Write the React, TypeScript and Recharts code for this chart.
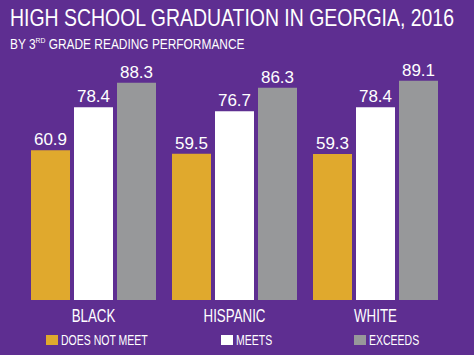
import { Bar, BarChart, LabelList, XAxis, YAxis } from "recharts";

const groups = ["BLACK", "HISPANIC", "WHITE"];
const doesNotMeet = [60.9, 59.5, 59.3];
const meets = [78.4, 76.7, 78.4];
const exceeds = [88.3, 86.3, 89.1];

const data = groups.map((g, i) => ({
  group: g,
  doesNotMeet: doesNotMeet[i],
  meets: meets[i],
  exceeds: exceeds[i],
}));

const PURPLE = "#5e2e91";
const GOLD = "#e0a92d";
const GRAY = "#97989a";
const FONT = "'Liberation Sans', sans-serif";

const legendItems = [
  { label: "DOES NOT MEET", color: GOLD, left: 46 },
  { label: "MEETS", color: "#ffffff", left: 221 },
  { label: "EXCEEDS", color: GRAY, left: 354 },
];

// narrow tick text, the source uses a condensed hand-drawn face
function GroupTick({ x, y, payload }: any) {
  return (
    <text
      x={0}
      y={0}
      transform={`translate(${x},${y + 14}) scale(0.74,1)`}
      textAnchor="middle"
      fill="#fff"
      fontSize={18}
      fontFamily={FONT}
    >
      {payload.value}
    </text>
  );
}

const squeeze = (s: number): React.CSSProperties => ({
  transform: `scaleX(${s})`,
  transformOrigin: "left center",
  whiteSpace: "nowrap",
});

export default function App() {
  return (
    <div
      style={{
        position: "fixed",
        top: 0,
        left: 0,
        width: 474,
        height: 355,
        background: PURPLE,
        fontFamily: FONT,
        color: "#fff",
        overflow: "hidden",
      }}
    >
      <div style={{ position: "absolute", left: 10, top: 4, fontSize: 24, ...squeeze(0.81) }}>
        HIGH SCHOOL GRADUATION IN GEORGIA, 2016
      </div>
      <div style={{ position: "absolute", left: 10, top: 36, fontSize: 14, ...squeeze(0.85) }}>
        BY 3<sup style={{ fontSize: 8 }}>RD</sup> GRADE READING PERFORMANCE
      </div>
      <BarChart
        width={474}
        height={330}
        data={data}
        margin={{ top: 54, right: 28, left: 23, bottom: 5 }}
        barCategoryGap={8}
        barGap={4}
      >
        <YAxis hide domain={[0, 100]} />
        <XAxis dataKey="group" axisLine={false} tickLine={false} height={25} tick={<GroupTick />} />
        <Bar dataKey="doesNotMeet" fill={GOLD} isAnimationActive={false}>
          <LabelList dataKey="doesNotMeet" position="top" offset={5} fill="#fff" fontSize={17} fontFamily={FONT} />
        </Bar>
        <Bar dataKey="meets" fill="#ffffff" isAnimationActive={false}>
          <LabelList dataKey="meets" position="top" offset={5} fill="#fff" fontSize={17} fontFamily={FONT} />
        </Bar>
        <Bar dataKey="exceeds" fill={GRAY} isAnimationActive={false}>
          <LabelList dataKey="exceeds" position="top" offset={5} fill="#fff" fontSize={17} fontFamily={FONT} />
        </Bar>
      </BarChart>
      {legendItems.map((item) => (
        <div
          key={item.label}
          style={{
            position: "absolute",
            left: item.left,
            top: 332,
            display: "flex",
            alignItems: "center",
            fontSize: 14,
          }}
        >
          <span style={{ display: "inline-block", width: 12, height: 10, background: item.color, marginRight: 3 }} />
          <span style={squeeze(0.75)}>{item.label}</span>
        </div>
      ))}
    </div>
  );
}
